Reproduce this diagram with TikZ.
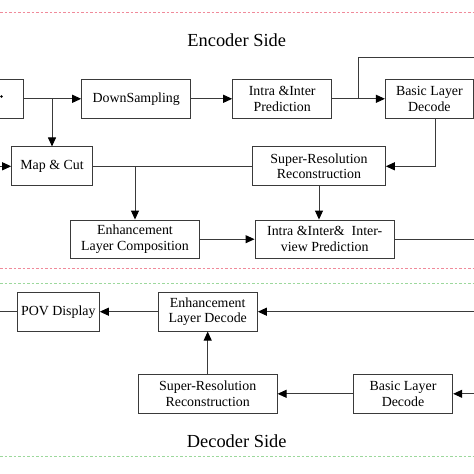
\documentclass[tikz,border=0pt]{standalone}
\usepackage{fontspec}
\setmainfont{Liberation Serif}
\usetikzlibrary{arrows.meta,calc}
\definecolor{ln}{HTML}{3A3A3A}
\definecolor{redd}{HTML}{F08A9A}
\definecolor{grnd}{HTML}{9CD89C}
\tikzset{
  x=1pt,y=-1pt,
  box/.style={draw=ln,line width=1pt,rectangle,inner sep=0pt,align=center,
    minimum height=39pt,font=\fontsize{13.9}{15.7}\selectfont},
  arr/.style={draw=ln,line width=1pt,-{Triangle[length=9pt,width=8pt,fill=black,color=black]}},
  ln/.style={draw=ln,line width=1pt},
  sep/.style={line width=0.8pt,dash pattern=on 2.5pt off 2pt},
  title/.style={font=\fontsize{18.4}{20}\selectfont}
}
\begin{document}
\begin{tikzpicture}
\useasboundingbox (0,0) rectangle (474,474);
\begin{scope}
\clip (0,0) rectangle (474,474);
% separators
\draw[sep,draw=redd] (0,12) -- (474,12);
\draw[sep,draw=redd] (0,268.3) -- (474,268.3);
\draw[sep,draw=grnd] (0,283.3) -- (474,283.3);
\draw[sep,draw=grnd] (0,456.7) -- (474,456.7);
% titles
\node[title] (enct) at (236.7,40) {Encoder Side};
\node[title] (dect) at (236.7,441.7) {Decoder Side};
% encoder boxes
\node[box,minimum width=63.4pt] (inp) at (-8.7,98.8) {};
\fill[black] (1.5,96.5) circle (1.3pt);
\node[box,minimum width=109pt] (ds) at (136.2,98.8) {DownSampling};
\node[box,minimum width=99pt] (iip) at (282.2,98.8) {Intra \&Inter\\Prediction};
\node[box,minimum width=88pt] (bld) at (429.4,98.8) {Basic Layer\\Decode};
\node[box,minimum width=80.6pt,minimum height=38.7pt] (mc) at (52,166.3) {Map \& Cut};
\node[box,minimum width=132.6pt,minimum height=38.7pt] (srr) at (319,166.3) {Super-Resolution\\Reconstruction};
\node[box,minimum width=128.6pt,minimum height=38.3pt] (elc) at (135,239.2) {Enhancement\\Layer Composition};
\node[box,minimum width=139.3pt,minimum height=38.3pt] (iiv) at (324.7,239.2) {Intra \&Inter\&\ \ Inter-\\view Prediction};
% decoder boxes
\node[box,minimum width=82pt,minimum height=38.7pt] (pov) at (58.3,311.7) {POV Display};
\node[box,minimum width=99.3pt,minimum height=38.7pt] (eld) at (207.7,311.7) {Enhancement\\Layer Decode};
\node[box,minimum width=138.7pt] (srd) at (207.7,393.8) {Super-Resolution\\Reconstruction};
\node[box,minimum width=99.4pt] (bldd) at (403,393.8) {Basic Layer\\Decode};
% coordinates
\coordinate (j1) at (52,98.8);
\coordinate (j2) at (358.3,98.8);
\coordinate (lp) at (358.3,57.3);
\coordinate (lpe) at (480,57.3);
\coordinate (mcin) at (-5,166.3);
\coordinate (j3) at (135,166.3);
\coordinate (iivout) at (480,239.2);
\coordinate (eldin) at (480,311.7);
\coordinate (povout) at (-5,311.7);
\coordinate (bldin) at (480,393.8);
% encoder connectors
\draw[arr] (inp.east) -- (ds.west);
\draw[arr] (j1) -- (mc.north);
\draw[arr] (mcin) -- (mc.west);
\draw[arr] (ds.east) -- (iip.west);
\draw[arr] (iip.east) -- (bld.west);
\draw[ln] (j2) -- (lp) -- (lpe);
\draw[arr] ([xshift=5.6pt]bld.south) |- (srr.east);
\draw[ln] (mc.east) -- (srr.west);
\draw[arr] (j3) -- (elc.north);
\draw[arr] (srr.south) -- (srr.south |- iiv.north);
\draw[arr] (elc.east) -- (iiv.west);
\draw[ln] (iiv.east) -- (iivout);
% decoder connectors
\draw[arr] (eldin) -- (eld.east);
\draw[arr] (eld.west) -- (pov.east);
\draw[ln] (pov.west) -- (povout);
\draw[arr] (srd.north) -- (eld.south);
\draw[arr] (bldd.west) -- (srd.east);
\draw[arr] (bldin) -- (bldd.east);
\end{scope}
\end{tikzpicture}
\end{document}
